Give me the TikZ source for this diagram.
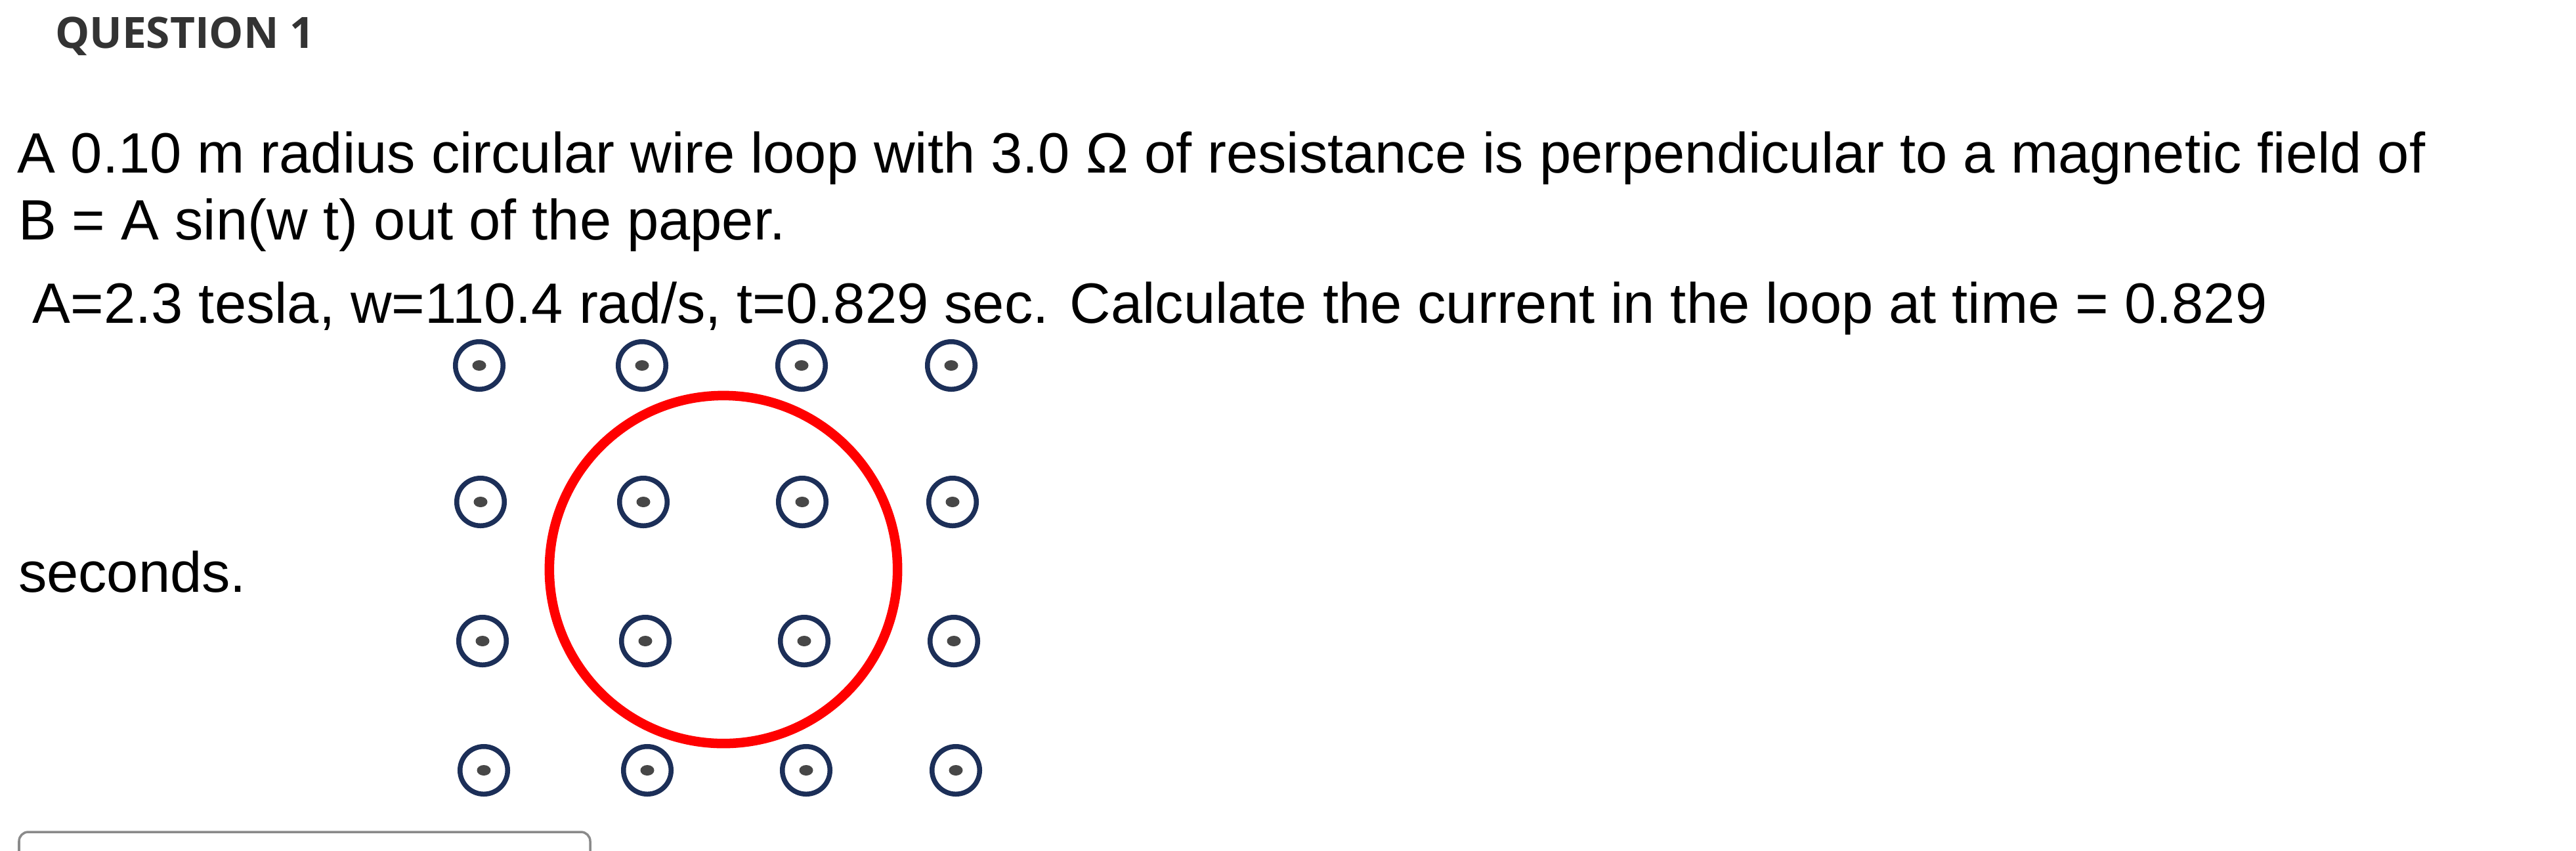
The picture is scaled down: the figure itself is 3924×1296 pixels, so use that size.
\documentclass[tikz,border=0pt]{standalone}
\usepackage{fontspec}
\setmainfont{Liberation Sans}
\newfontfamily\titlefont{Open Sans}
\begin{document}
\begin{tikzpicture}[x=0.01cm,y=-0.01cm,
  txt/.style={anchor=base west,inner sep=0pt,outer sep=0pt,
    font=\fontsize{24.65pt}{30pt}\selectfont},
  ttl/.style={anchor=base west,inner sep=0pt,outer sep=0pt,text=titlegray,
    font=\titlefont\bfseries\fontsize{18.7pt}{24pt}\selectfont},
  fieldsym/.style={circle,draw=navy,line width=0.075cm,minimum size=0.725cm,
    inner sep=0pt,
    path picture={\fill[dotgray] (path picture bounding box.center) ellipse (0.105cm and 0.08cm);}},
  loopring/.style={circle,draw=loopred,line width=0.145cm,minimum size=5.30cm,inner sep=0pt},
  answerbox/.style={draw=boxgray,line width=0.035cm,rounded corners=0.14cm}
]
\definecolor{titlegray}{HTML}{333333}
\definecolor{navy}{HTML}{1C2F58}
\definecolor{dotgray}{HTML}{474747}
\definecolor{loopred}{HTML}{FF0000}
\definecolor{boxgray}{HTML}{8A8A8A}
\path[use as bounding box] (0,0) rectangle (3924,1296);
\clip (0,0) rectangle (3924,1296);
\fill[white] (0,0) rectangle (3924,1296);

\node[ttl] (title) at (84,73) {QUESTION 1};
\node[txt] (l1) at (26,263) {A 0.10 m radius circular wire loop with 3.0 Ω of resistance is perpendicular to a magnetic field of};
\node[txt] (l2) at (28,365) {B = A sin(w t) out of the paper.};
\node[txt] (l3) at (50,492) {A=2.3 tesla, w=110.4 rad/s, t=0.829 sec. Calculate the current in the loop at time = 0.829};
\node[txt] (l4) at (28,902) {seconds.};

% field symbols (out of the paper)
\node[fieldsym] (f11) at (730,557) {};
\node[fieldsym] (f12) at (978,557) {};
\node[fieldsym] (f13) at (1221,557) {};
\node[fieldsym] (f14) at (1449,557) {};
\node[fieldsym] (f21) at (732,765) {};
\node[fieldsym] (f22) at (980,765) {};
\node[fieldsym] (f23) at (1222,765) {};
\node[fieldsym] (f24) at (1451,765) {};
\node[fieldsym] (f31) at (735,977) {};
\node[fieldsym] (f32) at (983,977) {};
\node[fieldsym] (f33) at (1225,977) {};
\node[fieldsym] (f34) at (1453,977) {};
\node[fieldsym] (f41) at (737,1174) {};
\node[fieldsym] (f42) at (986,1174) {};
\node[fieldsym] (f43) at (1228,1174) {};
\node[fieldsym] (f44) at (1456,1174) {};

% wire loop
\node[loopring] (loop) at (1102,868) {};

% answer box (cut by the lower edge)
\draw[answerbox] (29,1360) -- (29,1268) -- (899,1268) -- (899,1360);
\end{tikzpicture}
\end{document}
